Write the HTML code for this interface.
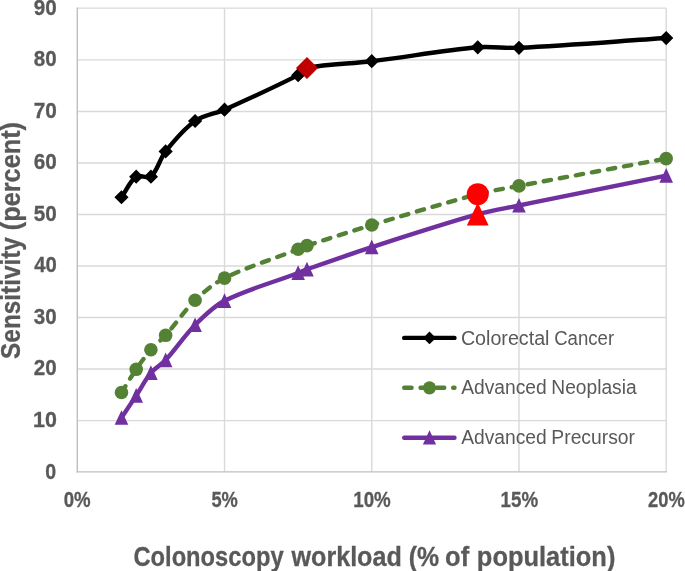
<!DOCTYPE html>
<html><head><meta charset="utf-8"><title>Chart</title>
<style>
html,body{margin:0;padding:0;background:#fff;}
body{width:685px;height:571px;overflow:hidden;}
svg{display:block;}
text{font-family:"Liberation Sans",sans-serif;fill:#595959;}
.b{font-weight:bold;stroke:#595959;stroke-width:0.3px;}
</style></head><body>
<svg width="685" height="571" viewBox="0 0 685 571">
<rect width="685" height="571" fill="#fff"/>
<g stroke="#d9d9d9" stroke-width="1.4" fill="none">
<line x1="77.3" x2="666.2" y1="420.58" y2="420.58"/>
<line x1="77.3" x2="666.2" y1="369.06" y2="369.06"/>
<line x1="77.3" x2="666.2" y1="317.53" y2="317.53"/>
<line x1="77.3" x2="666.2" y1="266.01" y2="266.01"/>
<line x1="77.3" x2="666.2" y1="214.49" y2="214.49"/>
<line x1="77.3" x2="666.2" y1="162.97" y2="162.97"/>
<line x1="77.3" x2="666.2" y1="111.44" y2="111.44"/>
<line x1="77.3" x2="666.2" y1="59.92" y2="59.92"/>
<line x1="77.3" x2="666.2" y1="8.15" y2="8.15"/>
<line x1="224.53" x2="224.53" y1="8.2" y2="471.9"/>
<line x1="371.75" x2="371.75" y1="8.2" y2="471.9"/>
<line x1="518.98" x2="518.98" y1="8.2" y2="471.9"/>
<line x1="666.20" x2="666.20" y1="8.2" y2="471.9"/>
</g>
<g stroke="#bfbfbf" stroke-width="1.4" fill="none">
<line x1="77.3" x2="77.3" y1="7.5" y2="472.6"/>
<line x1="76.6" x2="666.9" y1="471.9" y2="471.9"/>
</g>
<text class="b" font-size="21.2" x="33.13" y="426.98" textLength="23.85" lengthAdjust="spacingAndGlyphs">10</text>
<text class="b" font-size="21.2" x="33.84" y="375.46" textLength="22.87" lengthAdjust="spacingAndGlyphs">20</text>
<text class="b" font-size="21.2" x="33.87" y="323.93" textLength="22.84" lengthAdjust="spacingAndGlyphs">30</text>
<text class="b" font-size="21.2" x="34.14" y="272.41" textLength="22.57" lengthAdjust="spacingAndGlyphs">40</text>
<text class="b" font-size="21.2" x="33.73" y="220.89" textLength="22.99" lengthAdjust="spacingAndGlyphs">50</text>
<text class="b" font-size="21.2" x="33.75" y="169.37" textLength="22.98" lengthAdjust="spacingAndGlyphs">60</text>
<text class="b" font-size="21.2" x="33.67" y="117.84" textLength="23.10" lengthAdjust="spacingAndGlyphs">70</text>
<text class="b" font-size="21.2" x="33.82" y="66.32" textLength="22.89" lengthAdjust="spacingAndGlyphs">80</text>
<text class="b" font-size="21.2" x="33.78" y="14.80" textLength="22.94" lengthAdjust="spacingAndGlyphs">90</text>
<text class="b" font-size="21.2" x="45.35" y="478.50" textLength="10.89" lengthAdjust="spacingAndGlyphs">0</text>
<text class="b" font-size="21.2" x="63.76" y="506.70" textLength="26.93" lengthAdjust="spacingAndGlyphs">0%</text>
<text class="b" font-size="21.2" x="211.38" y="506.70" textLength="26.43" lengthAdjust="spacingAndGlyphs">5%</text>
<text class="b" font-size="21.2" x="353.22" y="506.70" textLength="37.52" lengthAdjust="spacingAndGlyphs">10%</text>
<text class="b" font-size="21.2" x="500.57" y="506.70" textLength="37.56" lengthAdjust="spacingAndGlyphs">15%</text>
<text class="b" font-size="21.2" x="648.08" y="506.70" textLength="36.60" lengthAdjust="spacingAndGlyphs">20%</text>
<text class="b" font-size="26.8" x="133.45" y="565.50" textLength="150.16" lengthAdjust="spacingAndGlyphs">Colonoscopy</text>
<text class="b" font-size="26.8" x="291.58" y="565.50" textLength="110.17" lengthAdjust="spacingAndGlyphs">workload</text>
<text class="b" font-size="26.8" x="408.84" y="565.50" textLength="30.40" lengthAdjust="spacingAndGlyphs">(%</text>
<text class="b" font-size="26.8" x="445.11" y="565.50" textLength="24.07" lengthAdjust="spacingAndGlyphs">of</text>
<text class="b" font-size="26.8" x="476.85" y="565.50" textLength="138.52" lengthAdjust="spacingAndGlyphs">population)</text>
<text class="b" font-size="26.8" transform="translate(20.00 358.89) rotate(-90)" textLength="121.80" lengthAdjust="spacingAndGlyphs">Sensitivity</text>
<text class="b" font-size="26.8" transform="translate(20.00 230.17) rotate(-90)" textLength="108.19" lengthAdjust="spacingAndGlyphs">(percent)</text>
<path d="M121.47 417.75 C126.38 410.37 131.32 403.01 136.19 395.60 C141.14 388.07 145.22 379.80 150.91 372.93 C155.03 367.95 161.23 364.83 165.63 360.05 C175.95 348.86 184.37 335.79 195.08 325.01 C204.00 316.04 213.31 306.46 224.53 300.80 C247.67 289.11 273.63 282.32 298.14 272.97 C301.11 271.84 303.97 270.42 306.97 269.37 C328.51 261.83 350.03 254.22 371.75 247.21 C406.96 235.85 442.18 224.32 477.75 214.24 C491.26 210.41 505.21 208.30 518.98 205.48 C568.03 195.42 617.12 185.56 666.20 175.60" fill="none" stroke="#7030a0" stroke-width="4.4" stroke-linecap="round" stroke-linejoin="round"/>
<path fill="#7030a0" d="M121.47 410.15 L128.27 424.85 L114.67 424.85Z M136.19 388.00 L142.99 402.70 L129.39 402.70Z M150.91 365.33 L157.71 380.03 L144.11 380.03Z M165.63 352.45 L172.44 367.15 L158.83 367.15Z M195.08 317.41 L201.88 332.11 L188.28 332.11Z M224.53 293.20 L231.33 307.90 L217.73 307.90Z M298.14 265.37 L304.94 280.07 L291.34 280.07Z M306.97 261.77 L313.77 276.47 L300.17 276.47Z M371.75 239.61 L378.55 254.31 L364.95 254.31Z M518.98 197.88 L525.77 212.58 L512.18 212.58Z M666.20 168.00 L673.00 182.70 L659.40 182.70Z"/>
<path d="M121.47 392.51 C126.38 384.78 131.00 376.86 136.19 369.32 C140.82 362.60 145.58 355.90 150.91 349.74 C155.40 344.56 161.06 340.44 165.63 335.32 C175.79 323.95 184.21 310.84 195.08 300.28 C203.84 291.78 213.60 283.53 224.53 278.13 C247.96 266.53 273.61 258.93 298.14 249.27 C301.10 248.11 303.95 246.66 306.97 245.67 C328.49 238.59 350.06 231.60 371.75 225.06 C406.98 214.43 442.21 203.60 477.75 194.15 C491.28 190.55 505.21 188.50 518.98 185.90 C568.02 176.65 617.12 167.70 666.20 158.59" fill="none" stroke="#548235" stroke-width="4.4" stroke-linecap="round" stroke-linejoin="round" stroke-dasharray="7.4 8.92"/>
<g fill="#548235"><circle cx="121.47" cy="392.51" r="6.8"/><circle cx="136.19" cy="369.32" r="6.8"/><circle cx="150.91" cy="349.74" r="6.8"/><circle cx="165.63" cy="335.32" r="6.8"/><circle cx="195.08" cy="300.28" r="6.8"/><circle cx="224.53" cy="278.13" r="6.8"/><circle cx="298.14" cy="249.27" r="6.8"/><circle cx="306.97" cy="245.67" r="6.8"/><circle cx="371.75" cy="225.06" r="6.8"/><circle cx="518.98" cy="185.90" r="6.8"/><circle cx="666.20" cy="158.59" r="6.8"/></g>
<path d="M121.47 197.24 C126.38 190.37 129.98 180.97 136.19 176.63 C139.80 174.10 147.62 179.45 150.91 176.63 C157.44 171.03 159.62 158.96 165.63 151.38 C174.34 140.41 183.83 128.95 195.08 120.98 C203.46 115.04 214.92 113.92 224.53 109.65 C249.27 98.64 274.04 87.33 298.14 75.13 C301.52 73.42 303.31 68.61 306.97 67.92 C327.85 63.97 350.20 63.82 371.75 61.22 C407.13 56.95 442.33 50.53 477.75 47.31 C491.41 46.06 505.26 48.50 518.98 47.82 C568.07 45.41 617.12 41.30 666.20 38.03" fill="none" stroke="#000" stroke-width="4.4" stroke-linecap="round" stroke-linejoin="round"/>
<path fill="#000" d="M121.47 190.14 L128.57 197.24 L121.47 204.34 L114.37 197.24Z M136.19 169.53 L143.29 176.63 L136.19 183.73 L129.09 176.63Z M150.91 169.53 L158.01 176.63 L150.91 183.73 L143.81 176.63Z M165.63 144.28 L172.73 151.38 L165.63 158.48 L158.53 151.38Z M195.08 113.88 L202.18 120.98 L195.08 128.08 L187.98 120.98Z M224.53 102.55 L231.63 109.65 L224.53 116.75 L217.43 109.65Z M298.14 68.03 L305.24 75.13 L298.14 82.23 L291.04 75.13Z M371.75 54.12 L378.85 61.22 L371.75 68.32 L364.65 61.22Z M477.75 40.21 L484.85 47.31 L477.75 54.41 L470.65 47.31Z M518.98 40.72 L526.08 47.82 L518.98 54.92 L511.88 47.82Z M666.20 30.93 L673.30 38.03 L666.20 45.13 L659.10 38.03Z"/>
<path fill="#ff0000" d="M477.75 202.54 L488.65 225.44 L466.85 225.44Z"/>
<circle fill="#ff0000" cx="477.75" cy="194.15" r="11"/>
<path fill="#c00000" d="M306.97 56.92 L317.97 67.92 L306.97 78.92 L295.97 67.92Z"/>
<line x1="404.2" x2="454.5" y1="337.9" y2="337.9" stroke="#000" stroke-width="4.4" stroke-linecap="round"/>
<path fill="#000" d="M429.50 331.50 L435.90 337.90 L429.50 344.30 L423.10 337.90Z"/>
<text font-size="20" x="460.88" y="344.60" textLength="88.58" lengthAdjust="spacingAndGlyphs">Colorectal</text>
<text font-size="20" x="554.20" y="344.60" textLength="59.97" lengthAdjust="spacingAndGlyphs">Cancer</text>
<line x1="404.2" x2="454.5" y1="387.8" y2="387.8" stroke="#548235" stroke-width="4.4" stroke-linecap="round" stroke-dasharray="7.4 8.92"/>
<circle fill="#548235" cx="429.5" cy="387.8" r="6.6"/>
<text font-size="20" x="461.19" y="393.90" textLength="85.56" lengthAdjust="spacingAndGlyphs">Advanced</text>
<text font-size="20" x="551.35" y="393.90" textLength="85.29" lengthAdjust="spacingAndGlyphs">Neoplasia</text>
<line x1="404.2" x2="454.5" y1="437.7" y2="437.7" stroke="#7030a0" stroke-width="4.4" stroke-linecap="round"/>
<path fill="#7030a0" d="M429.50 430.30 L436.10 444.60 L422.90 444.60Z"/>
<text font-size="20" x="461.19" y="444.40" textLength="85.56" lengthAdjust="spacingAndGlyphs">Advanced</text>
<text font-size="20" x="551.33" y="444.40" textLength="83.66" lengthAdjust="spacingAndGlyphs">Precursor</text>
</svg>
</body></html>
